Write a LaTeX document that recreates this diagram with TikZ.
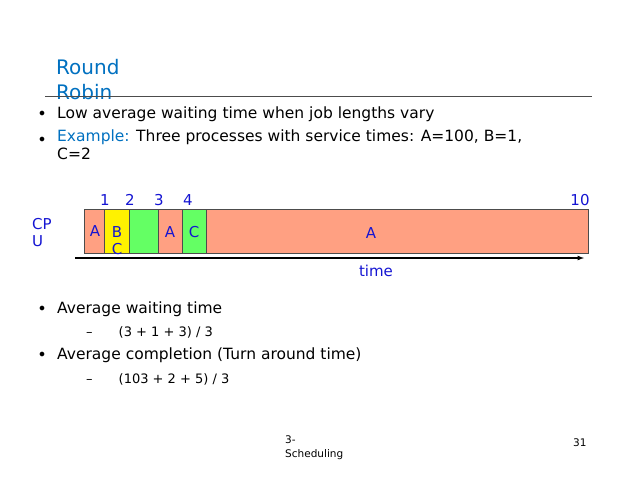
\documentclass[tikz,border=0pt]{standalone}
\usepackage{fontspec}
\setmainfont{DejaVu Sans}
\begin{document}
\begin{tikzpicture}[x=1pt,y=-1pt,
  txt/.style={anchor=west,inner sep=0,font=\fontsize{15.5}{18}\selectfont},
  lab/.style={inner sep=0,text=dblue,font=\fontsize{15}{17}\selectfont},
  seg/.style={draw=black!70,line width=0.8pt},
  bul/.style={inner sep=0,font=\fontsize{12}{12}\selectfont}]
\definecolor{tblue}{RGB}{0,112,192}
\definecolor{dblue}{RGB}{20,20,210}
\definecolor{salmon}{RGB}{255,160,130}
\definecolor{gr}{RGB}{100,255,100}
\useasboundingbox (0,0) rectangle (638,493);
\node[txt,text=tblue,font=\fontsize{20}{25}\selectfont,align=left] (title) at (56,80) {Round\\Robin};
\draw[black!70,line width=0.8pt] (45,96) coordinate (l1) -- (592,96) coordinate (l2);
\node[bul] (b1) at (42,114) {$\bullet$};
\node[txt] (t1) at (57,114) {Low average waiting time when job lengths vary};
\node[bul] (b2) at (42,140) {$\bullet$};
\node[txt,align=left,anchor=north west] (t2) at (57,130) {\textcolor{tblue}{Example:} Three processes with service times: A=100, B=1,\\C=2};
% timeline
\node[seg,fill=salmon,minimum width=20,minimum height=44,anchor=north west,inner sep=0] (s1) at (84,209) {};
\node[seg,fill=yellow,minimum width=25,minimum height=44,anchor=north west,inner sep=0] (s2) at (104,209) {};
\node[seg,fill=gr,minimum width=29,minimum height=44,anchor=north west,inner sep=0] (s3) at (129,209) {};
\node[seg,fill=salmon,minimum width=24,minimum height=44,anchor=north west,inner sep=0] (s4) at (158,209) {};
\node[seg,fill=gr,minimum width=24,minimum height=44,anchor=north west,inner sep=0] (s5) at (182,209) {};
\node[seg,fill=salmon,minimum width=382,minimum height=44,anchor=north west,inner sep=0] (s6) at (206,209) {};
\node[lab] (la1) at (95,231) {A};
\node[lab,align=center] (lb) at (117,241) {B\\C};
\node[lab] (la2) at (170,232) {A};
\node[lab] (lc) at (194,232) {C};
\node[lab] (la3) at (371,233) {A};
\node[lab,align=left,anchor=west] (cpu) at (32,233) {CP\\U};
\node[lab] (n1) at (105,200) {1};
\node[lab] (n2) at (130,200) {2};
\node[lab] (n3) at (159,200) {3};
\node[lab] (n4) at (188,200) {4};
\node[lab] (n10) at (580,200) {10};
\coordinate (a0) at (75,258);
\coordinate (a1) at (584,258);
\draw[-latex,line width=1.2pt] (a0) -- (a1);
\node[lab] (time) at (376,271) {time};
\node[bul] (b3) at (42,309) {$\bullet$};
\node[txt] (t3) at (57,309) {Average waiting time};
\node[txt,font=\fontsize{13}{15}\selectfont] (d1) at (86,332) {–\hspace{26pt}(3 + 1 + 3) / 3};
\node[bul] (b4) at (42,355) {$\bullet$};
\node[txt] (t4) at (57,355) {Average completion (Turn around time)};
\node[txt,font=\fontsize{13}{15}\selectfont] (d2) at (86,379) {–\hspace{26pt}(103 + 2 + 5) / 3};
\node[txt,font=\fontsize{10.5}{14}\selectfont,align=left,anchor=north west] (f1) at (285,436) {3-\\Scheduling};
\node[txt,font=\fontsize{10.5}{14}\selectfont] (f2) at (573,443) {31};
\end{tikzpicture}
\end{document}
